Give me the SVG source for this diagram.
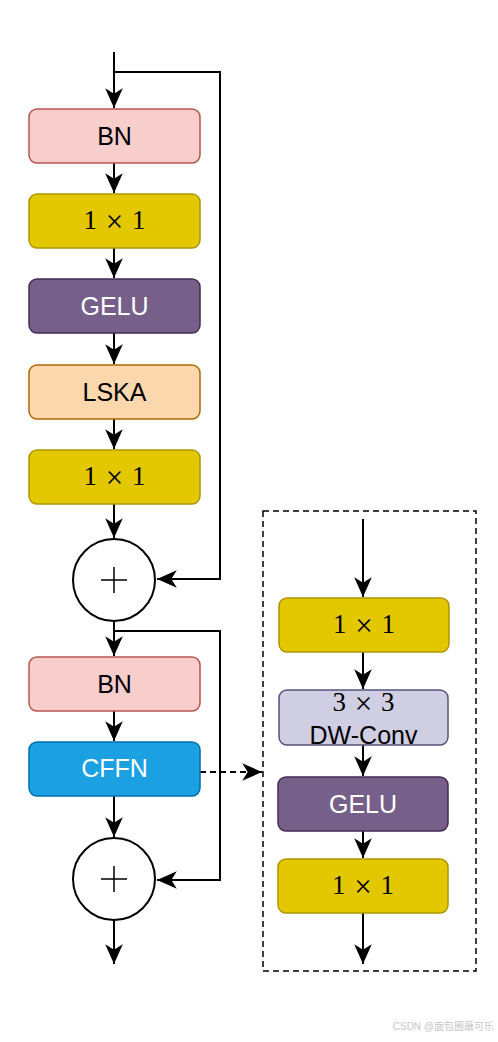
<svg xmlns="http://www.w3.org/2000/svg" width="498" height="1042" viewBox="0 0 498 1042">
<style>
.box{stroke-width:1.5}
.bn{fill:#f8cecc;stroke:#b85450}
.y{fill:#e3c800;stroke:#b09500}
.gelu{fill:#76608a;stroke:#432d57}
.lska{fill:#fad7ac;stroke:#b46504}
.cffn{fill:#1ba1e2;stroke:#006eaf}
.dw{fill:#d0cee2;stroke:#56517e}
.t{font-family:"Liberation Sans",Arial,sans-serif;font-size:25px;text-anchor:middle;fill:#000}
.w{fill:#fff}
.m{font-family:"Liberation Serif","Times New Roman",serif;font-size:27px;text-anchor:middle;word-spacing:2px;fill:#000}
.x{font-size:31px}
.ln{fill:none;stroke:#000;stroke-width:2}
.d{stroke-dasharray:6 4}
.c{fill:#fff;stroke:#000;stroke-width:2}
.p{fill:none;stroke:#000;stroke-width:1.5}
</style>
<defs>
<marker id="a" markerUnits="userSpaceOnUse" markerWidth="22" markerHeight="22" viewBox="-19 -10 20 20" refX="0" refY="0" orient="auto">
<path d="M0,0 L-18,-8 L-13,0 L-18,8 Z" fill="#000"/>
</marker>
</defs>
<g id="connectors">
<path class="ln" d="M114,52 V108" marker-end="url(#a)"/>
<path class="ln" d="M114,72 H220 V579 H157" marker-end="url(#a)"/>
<path class="ln" d="M114,163 V193" marker-end="url(#a)"/>
<path class="ln" d="M114,248 V278" marker-end="url(#a)"/>
<path class="ln" d="M114,333 V364" marker-end="url(#a)"/>
<path class="ln" d="M114,419 V449" marker-end="url(#a)"/>
<path class="ln" d="M114,504 V538" marker-end="url(#a)"/>
<path class="ln" d="M114,621 V656" marker-end="url(#a)"/>
<path class="ln" d="M114,631 H220 V880 H157" marker-end="url(#a)"/>
<path class="ln" d="M114,711 V741" marker-end="url(#a)"/>
<path class="ln" d="M114,796 V837" marker-end="url(#a)"/>
<path class="ln" d="M114,920 V964" marker-end="url(#a)"/>
<path class="ln d" d="M200,772 H262" marker-end="url(#a)"/>
<path class="ln" d="M363,519 V597" marker-end="url(#a)"/>
<path class="ln" d="M363,652 V689" marker-end="url(#a)"/>
<path class="ln" d="M363,745 V776" marker-end="url(#a)"/>
<path class="ln" d="M363,831 V858" marker-end="url(#a)"/>
<path class="ln" d="M363,913 V964" marker-end="url(#a)"/>
</g>
<g id="cffn-detail">
<rect x="263" y="511" width="213" height="460" fill="none" stroke="#000" stroke-width="1.5" stroke-dasharray="6 4"/>
</g>
<g id="bn1"><rect class="box bn" x="29" y="109" width="171" height="54" rx="8"/><text class="t" x="114.5" y="145">BN</text></g>
<g id="conv1"><rect class="box y" x="29" y="194" width="171" height="54" rx="8"/><text class="m" x="114.5" y="229">1 <tspan class="x" dy="3">×</tspan><tspan dy="-3"> 1</tspan></text></g>
<g id="gelu1"><rect class="box gelu" x="29" y="279" width="171" height="54" rx="8"/><text class="t w" x="114.5" y="315">GELU</text></g>
<g id="lska"><rect class="box lska" x="29" y="365" width="171" height="54" rx="8"/><text class="t" x="114.5" y="401">LSKA</text></g>
<g id="conv2"><rect class="box y" x="29" y="450" width="171" height="54" rx="8"/><text class="m" x="114.5" y="485">1 <tspan class="x" dy="3">×</tspan><tspan dy="-3"> 1</tspan></text></g>
<g id="add1"><circle class="c" cx="114" cy="580" r="41"/><path class="p" d="M101,580 H127 M114,567 V593"/></g>
<g id="bn2"><rect class="box bn" x="29" y="657" width="171" height="54" rx="8"/><text class="t" x="114.5" y="693">BN</text></g>
<g id="cffn"><rect class="box cffn" x="29" y="742" width="171" height="54" rx="8"/><text class="t w" x="114.5" y="777">CFFN</text></g>
<g id="add2"><circle class="c" cx="114" cy="879" r="41"/><path class="p" d="M101,879 H127 M114,866 V892"/></g>
<g id="r-conv1"><rect class="box y" x="279" y="598" width="170" height="54" rx="8"/><text class="m" x="364" y="633">1 <tspan class="x" dy="3">×</tspan><tspan dy="-3"> 1</tspan></text></g>
<g id="r-dw"><rect class="box dw" x="279" y="690" width="169" height="55" rx="8"/><text class="m" x="363.5" y="711">3 <tspan class="x" dy="3">×</tspan><tspan dy="-3"> 3</tspan></text><text class="t" x="363.5" y="744">DW-Conv</text></g>
<g id="r-gelu"><rect class="box gelu" x="278" y="777" width="170" height="54" rx="8"/><text class="t w" x="363" y="813">GELU</text></g>
<g id="r-conv2"><rect class="box y" x="278" y="859" width="170" height="54" rx="8"/><text class="m" x="363" y="894">1 <tspan class="x" dy="3">×</tspan><tspan dy="-3"> 1</tspan></text></g>
<text x="494" y="1030" font-family="'Liberation Sans','Noto Sans CJK SC',sans-serif" font-size="10" fill="#c8c8c8" text-anchor="end">CSDN @面包圈蘸可乐</text>
</svg>
